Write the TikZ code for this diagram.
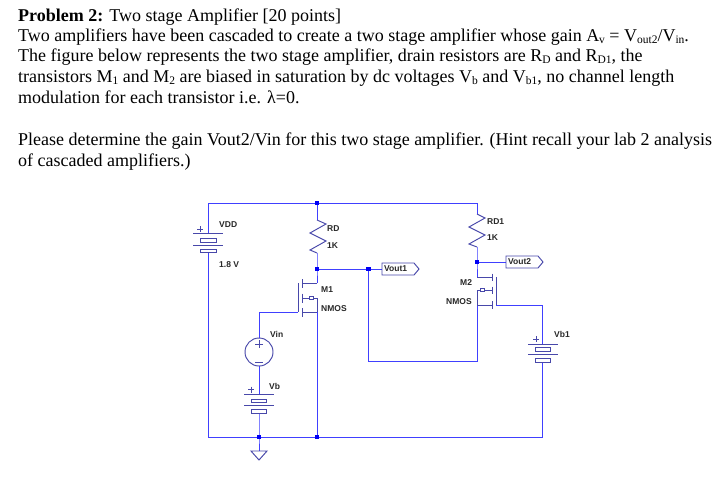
\documentclass[tikz,border=0pt]{standalone}
\usepackage{fontspec}
\setmainfont{Liberation Serif}
\newfontfamily\labfont[Scale=1]{Liberation Sans}
\usetikzlibrary{shapes.geometric}
\newcommand{\lsub}[1]{\raisebox{-2pt}{\fontsize{11.5}{12}\selectfont #1}}
\definecolor{wirec}{RGB}{64,64,255}
\definecolor{compc}{RGB}{72,72,170}
\definecolor{dotc}{RGB}{0,0,245}
\definecolor{labc}{RGB}{40,40,40}
\tikzset{
  wire/.style={draw=wirec,line width=0.9pt},
  comp/.style={draw=compc,line width=0.95pt},
  plate/.style={draw=compc,line width=1pt,fill=white},
  junc/.style={rectangle,fill=dotc,draw=none,minimum size=4.5pt,inner sep=0pt},
  lab/.style={font=\labfont\bfseries\fontsize{8.5}{10}\selectfont,text=labc,inner sep=0pt,anchor=west},
  para/.style={font=\fontsize{18}{20}\selectfont,text=black,inner sep=0pt,anchor=base west},
  flag/.style={draw=compc,line width=0.95pt,fill=white},
}
\begin{document}
\begin{tikzpicture}[x=1pt,y=-1pt]
\useasboundingbox[fill=white] (0,0) rectangle (727,488);
% text
\node[para] (t1) at (18,21) {\textbf{Problem 2:} Two stage Amplifier [20 points]};
\node[para] (t2) at (18,41) {Two amplifiers have been cascaded to create a two stage amplifier whose gain A\lsub{v} = V\lsub{out2}/V\lsub{in}.};
\node[para] (t3) at (18,61) {The figure below represents the two stage amplifier, drain resistors are R\lsub{D} and R\lsub{D1}, the};
\node[para] (t4) at (18,82) {transistors M\lsub{1} and M\lsub{2} are biased in saturation by dc voltages V\lsub{b} and V\lsub{b1}, no channel length};
\node[para] (t5) at (18,103) {modulation for each transistor i.e. λ=0.};
\node[para] (t6) at (18,145) {Please determine the gain Vout2/Vin for this two stage amplifier. (Hint recall your lab 2 analysis};
\node[para] (t7) at (18,166) {of cascaded amplifiers.)};
% coordinates
\coordinate (tl) at (208,203);
\coordinate (bl) at (208,437);
\coordinate (vddT) at (208,234);
\coordinate (vddB) at (208,252);
\coordinate (n1) at (317,203);
\coordinate (rdT) at (317,220);
\coordinate (rdB) at (317,253);
\coordinate (n2) at (317,269);
\coordinate (n3) at (368.5,269);
\coordinate (d1) at (317,283);
\coordinate (s1) at (317,312);
\coordinate (b1) at (317,298);
\coordinate (g1) at (298,312);
\coordinate (gv) at (259,312);
\coordinate (n4) at (317,437);
\coordinate (n5) at (259,437);
\coordinate (tr) at (477,203);
\coordinate (rd1T) at (477,214);
\coordinate (rd1B) at (477,247);
\coordinate (n6) at (477,262);
\coordinate (d2) at (477,277);
\coordinate (s2) at (477,305);
\coordinate (b2) at (477,290);
\coordinate (g2) at (496,305);
\coordinate (gr) at (542.5,305);
\coordinate (m3) at (368.5,361);
\coordinate (m4) at (477,361);
\coordinate (vb1T) at (542.5,344);
\coordinate (vb1B) at (542.5,362);
\coordinate (br) at (542.5,437);
\coordinate (gndT) at (259,451);
% wires
\draw[wire] (vddT) -- (tl) -- (tr) -- (rd1T);
\draw[wire] (vddB) -- (bl) -- (br) -- (vb1B);
\draw[wire] (n1) -- (rdT);
\draw[wire] (rdB) -- (n2) -- (d1);
\draw[wire] (n2) -- (382,269);
\draw[wire] (n3) -- (m3) -- (m4) -- (s2);
\draw[wire] (rd1B) -- (n6) -- (d2);
\draw[wire] (n6) -- (506,262);
\draw[wire] (s1) -- (n4);
\draw[wire] (gv) -- (259,338);
\draw[wire] (259,366) -- (259,394);
\draw[wire] (259,413) -- (n5) -- (gndT);
\draw[wire] (gr) -- (vb1T);
% resistors
\draw[comp] (rdT) -- (326,224) -- (310,233) -- (326,241) -- (310,250) -- (rdB);
\draw[comp] (rd1T) -- (485,218) -- (469,227) -- (485,235) -- (469,244) -- (rd1B);
% M1
\draw[comp] (d1) -- (302.5,283);
\draw[comp] (s1) -- (302.5,312);
\draw[comp] (b1) -- (s1);
\draw[comp] (302.5,298) -- (b1);
\draw[comp,fill=white] (309.5,296.3) rectangle (313.5,299.7);
\draw[comp] (302.5,279) -- (302.5,288);
\draw[comp] (302.5,293.5) -- (302.5,302.5);
\draw[comp] (302.5,308) -- (302.5,317);
\draw[comp] (298,283) -- (298,312);
\draw[wire] (gv) -- (g1);
% M2
\draw[comp] (d2) -- (492.5,277);
\draw[comp] (s2) -- (492.5,305);
\draw[comp] (b2) -- (s2);
\draw[comp] (492.5,290) -- (b2);
\draw[comp,fill=white] (480.5,288.3) rectangle (484.5,291.7);
\draw[comp] (492.5,273.5) -- (492.5,281);
\draw[comp] (492.5,286.5) -- (492.5,294);
\draw[comp] (492.5,301) -- (492.5,309);
\draw[comp] (496,277) -- (496,305);
\draw[wire] (g2) -- (gr);
% VDD battery
\draw[comp] (193,233.7) -- (223,233.7);
\draw[plate] (200,238) rectangle (216,242);
\draw[comp] (193,245) -- (223,245);
\draw[plate] (200,249) rectangle (216,252.5);
% Vb battery
\draw[comp] (244,394.5) -- (274,394.5);
\draw[plate] (251.5,399) rectangle (266,402.7);
\draw[comp] (244,405.7) -- (274,405.7);
\draw[plate] (251.5,409.5) rectangle (266,413);
% Vb1 battery
\draw[comp] (528,344) -- (558,344);
\draw[plate] (535,347.5) rectangle (550.5,351.5);
\draw[comp] (528,354.5) -- (558,354.5);
\draw[plate] (535,358.5) rectangle (550.5,362);
% Vin
\node[circle,draw=compc,line width=0.95pt,minimum size=28pt,inner sep=0pt,fill=white] (vin) at (259,352) {};
\draw[comp] (255,344) -- (263,344) (259,340) -- (259,348);
\draw[comp] (255,362.5) -- (263,362.5);
% ground
\draw[comp] (gndT) -- (251,451) -- (259,460) -- (267,451) -- (gndT);
% plus signs
\draw[comp] (197,229) -- (203,229) (200,226) -- (200,232);
\draw[comp] (248,389.5) -- (254,389.5) (251,386.5) -- (251,392.5);
\draw[comp] (533,339) -- (539,339) (536,336) -- (536,342);
% flags
\draw[flag] (382,263) -- (414,263) -- (419,269) -- (414,275) -- (382,275) -- cycle;
\draw[flag] (506,256) -- (538,256) -- (543,262) -- (538,268) -- (506,268) -- cycle;
\node[lab] (fl1) at (384,269) {Vout1};
\node[lab] (fl2) at (508,262) {Vout2};
% junctions
\foreach \p/\n in {n1/j1,n2/j2,n3/j3,n4/j4,n5/j5,n6/j6}
  \node[junc] (\n) at (\p) {};
% labels
\node[lab] (lvdd) at (219,225) {VDD};
\node[lab] (lv) at (219,265) {1.8 V};
\node[lab] (lrd) at (327,229) {RD};
\node[lab] (lk) at (327,246) {1K};
\node[lab] (lm1) at (321,290) {M1};
\node[lab] (ln1) at (321,309) {NMOS};
\node[lab] (lvin) at (270,334) {Vin};
\node[lab] (lvb) at (269,386) {Vb};
\node[lab] (lrd1) at (487,222) {RD1};
\node[lab] (lk1) at (487,238) {1K};
\node[lab] (lm2) at (460,283) {M2};
\node[lab] (ln2) at (446,302) {NMOS};
\node[lab] (lvb1) at (554,334) {Vb1};
\end{tikzpicture}
\end{document}
